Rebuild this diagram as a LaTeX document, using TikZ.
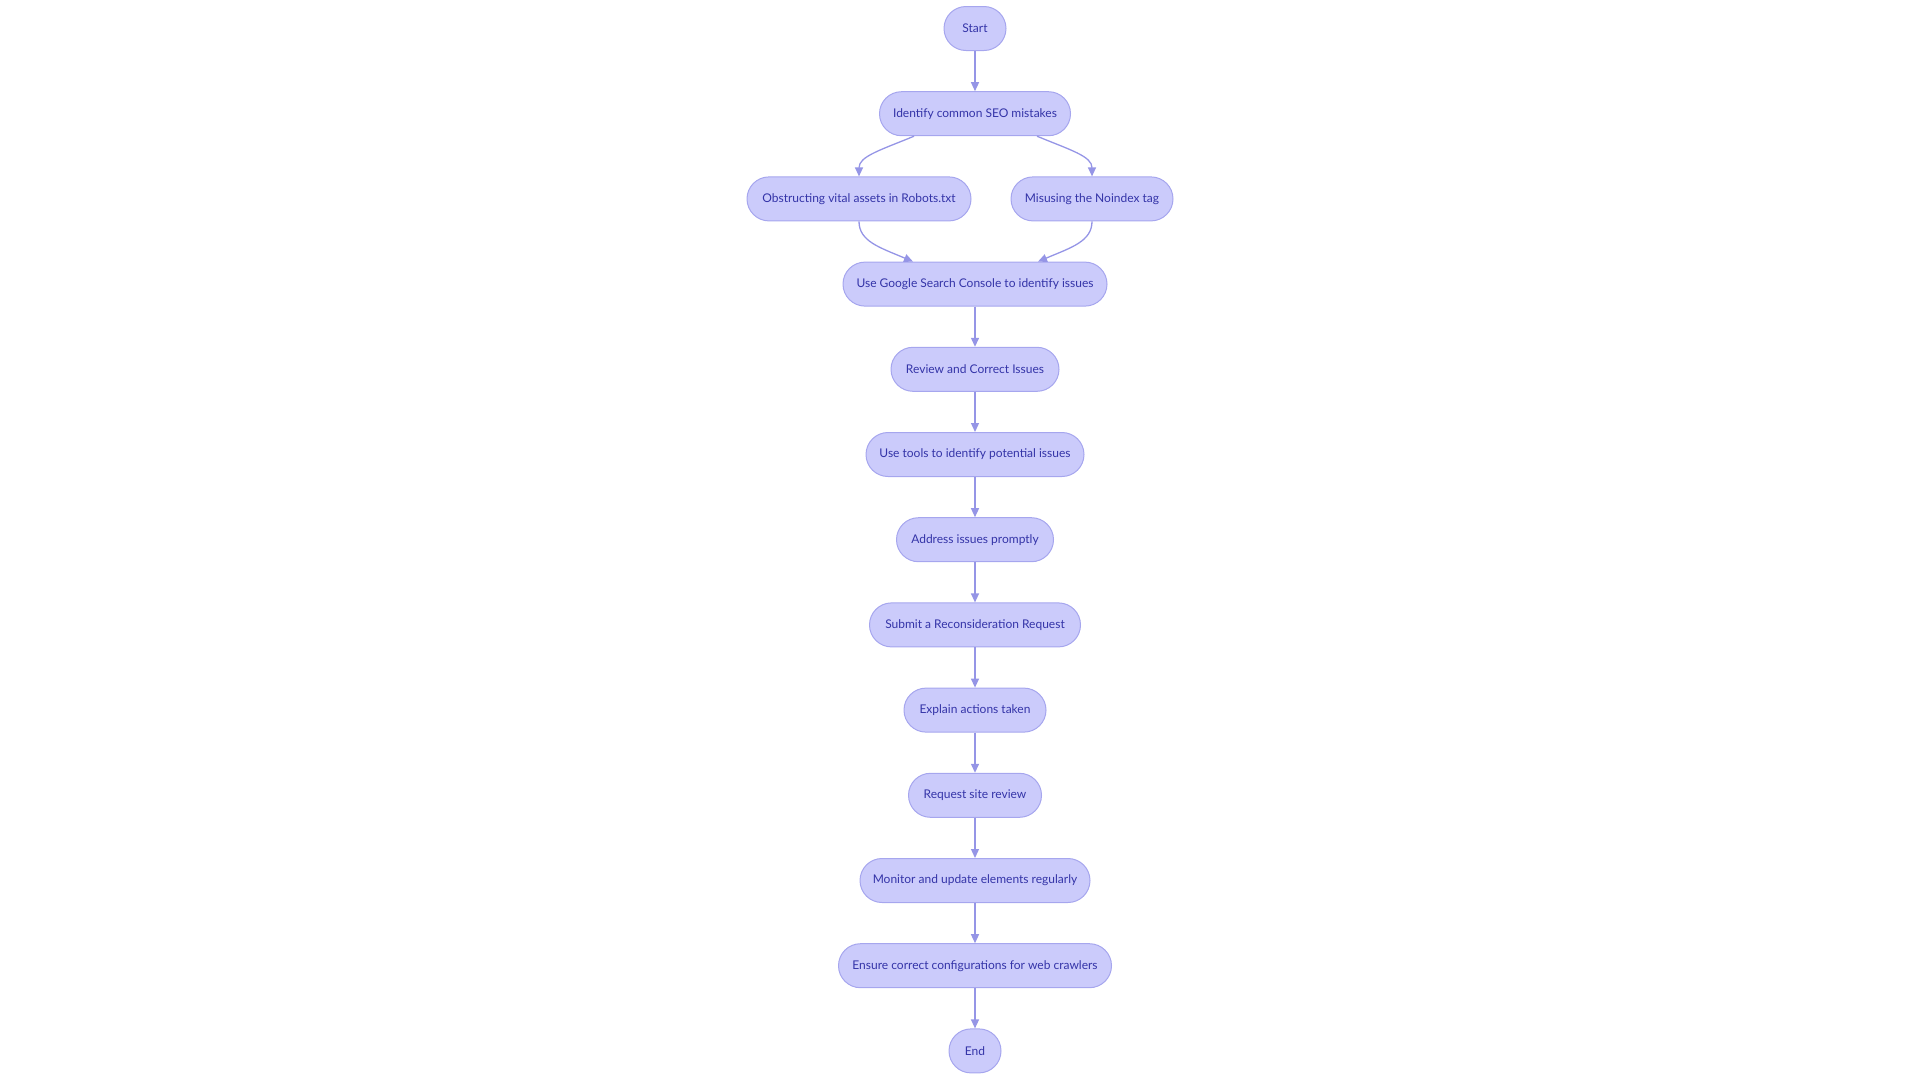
\documentclass[tikz,border=0pt]{standalone}
\usepackage{fontspec}
\setmainfont{Lato}
\usetikzlibrary{arrows.meta}
\definecolor{nfill}{HTML}{CBCBFB}
\definecolor{nline}{HTML}{A6A6EE}
\definecolor{ntext}{HTML}{3434A8}
\definecolor{eline}{HTML}{9595E6}
\tikzset{
  box/.style={draw=nline, fill=nfill, line width=1pt, rounded corners=22pt,
    minimum height=44pt, inner sep=0pt, text=ntext,
    font=\fontsize{12}{14}\selectfont},
  edge/.style={draw=eline, line width=1.3pt, -{Triangle[length=9pt,width=8pt]}}
}
\begin{document}
\begin{tikzpicture}[x=1pt,y=-1pt]
\useasboundingbox (0,0) rectangle (1920,1080);
\node[box, minimum width=62pt] (st) at (975,28.5) {Start};
\node[box, minimum width=191pt] (id) at (975,113.7) {Identify common SEO mistakes};
\node[box, minimum width=224pt] (ob) at (859,198.9) {Obstructing vital assets in Robots.txt};
\node[box, minimum width=162pt] (mi) at (1092,198.9) {Misusing the Noindex tag};
\node[box, minimum width=264pt] (gsc) at (975,284.1) {Use Google Search Console to identify issues};
\node[box, minimum width=168pt] (rev) at (975,369.3) {Review and Correct Issues};
\node[box, minimum width=218pt] (tools) at (975,454.5) {Use tools to identify potential issues};
\node[box, minimum width=157pt] (addr) at (975,539.7) {Address issues promptly};
\node[box, minimum width=211pt] (sub) at (975,624.9) {Submit a Reconsideration Request};
\node[box, minimum width=142pt] (expl) at (975,710.1) {Explain actions taken};
\node[box, minimum width=133pt] (req) at (975,795.3) {Request site review};
\node[box, minimum width=230pt] (mon) at (975,880.5) {Monitor and update elements regularly};
\node[box, minimum width=273pt] (ens) at (975,965.7) {Ensure correct configurations for web crawlers};
\node[box, minimum width=52pt] (en) at (975,1050.9) {End};

\draw[edge] (st) -- (id);
\draw[edge] ([xshift=-61pt]id.south) .. controls ([xshift=-95pt,yshift=-14pt]id.south) and ([yshift=20pt]ob.north) .. (ob.north);
\draw[edge] ([xshift=62pt]id.south) .. controls ([xshift=96pt,yshift=-14pt]id.south) and ([yshift=20pt]mi.north) .. (mi.north);
\draw[edge] (ob.south) .. controls ([yshift=-20pt]ob.south) and ([xshift=-95pt,yshift=14pt]gsc.north) .. ([xshift=-62pt]gsc.north);
\draw[edge] (mi.south) .. controls ([yshift=-20pt]mi.south) and ([xshift=96pt,yshift=14pt]gsc.north) .. ([xshift=63pt]gsc.north);
\draw[edge] (gsc) -- (rev);
\draw[edge] (rev) -- (tools);
\draw[edge] (tools) -- (addr);
\draw[edge] (addr) -- (sub);
\draw[edge] (sub) -- (expl);
\draw[edge] (expl) -- (req);
\draw[edge] (req) -- (mon);
\draw[edge] (mon) -- (ens);
\draw[edge] (ens) -- (en);
\end{tikzpicture}
\end{document}
